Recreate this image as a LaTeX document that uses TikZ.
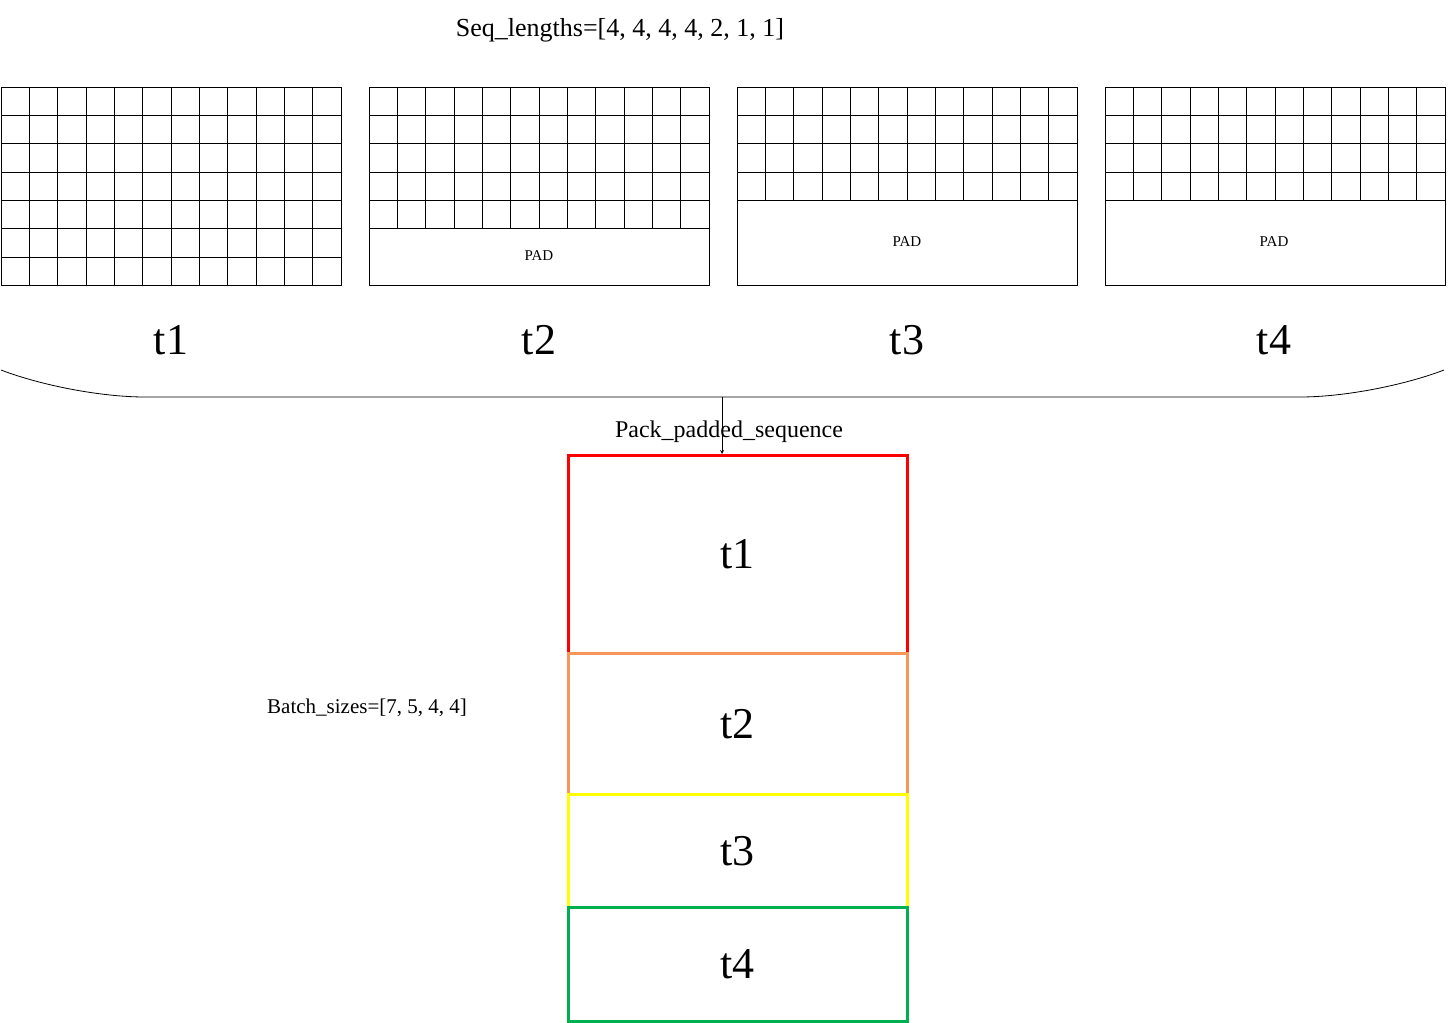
\documentclass[tikz,border=0pt]{standalone}
\usepackage{fontspec}
\setmainfont{Liberation Serif}
\begin{document}
\begin{tikzpicture}[x=1pt,y=-1pt,
  gridline/.style={draw=black,line width=0.8pt},
  big/.style={font=\fontsize{44}{48}\selectfont},
  pbox/.style={line width=2.5pt}]
\useasboundingbox (0,0) rectangle (1452,1023);
\node (seq) at (620,30) {\fontsize{26}{30}\selectfont Seq\_lengths=[4, 4, 4, 4, 2, 1, 1]};
% grids
\foreach \gx/\rows/\nm in {1/7/g1, 369/5/g2, 737/4/g3, 1105/4/g4}{
  \draw[gridline] (\gx,87) rectangle (\gx+340,285);
  \foreach \i in {1,...,11} \draw[gridline] (\gx+\i*28.33,87) -- (\gx+\i*28.33,87+\rows*28.33);
  \foreach \j in {1,...,\rows} \draw[gridline] (\gx,87+\j*28.33) -- (\gx+340,87+\j*28.33);
}
\node[font=\fontsize{15}{17}\selectfont] (p2) at (539,256) {PAD};
\node[font=\fontsize{15}{17}\selectfont] (p3) at (907,242) {PAD};
\node[font=\fontsize{15}{17}\selectfont] (p4) at (1274,242) {PAD};
\node[big] (l1) at (171,340) {t1};
\node[big] (l2) at (539,340) {t2};
\node[big] (l3) at (907,340) {t3};
\node[big] (l4) at (1274,340) {t4};
% brace
\draw[line width=0.8pt] (1,370) .. controls (40,385) and (100,397) .. (145,397) -- (1300,397) .. controls (1345,397) and (1405,385) .. (1444,370);
\coordinate (bm) at (722,397);
\node (pk) at (729,432) {\fontsize{24}{28}\selectfont Pack\_padded\_sequence};
% boxes
\node[pbox,draw=red,minimum width=339,minimum height=198,anchor=north west,big] (b1) at (567,454) {t1};
\node[pbox,draw={rgb,255:red,247;green,150;blue,90},minimum width=339,minimum height=141,anchor=north west,big] (b2) at (567,652) {t2};
\node[pbox,draw={rgb,255:red,255;green,255;blue,0},minimum width=339,minimum height=113,anchor=north west,big] (b3) at (567,793) {t3};
\node[pbox,draw={rgb,255:red,0;green,176;blue,80},minimum width=339,minimum height=114,anchor=north west,big] (b4) at (567,906) {t4};
\draw[-stealth,line width=0.8pt] (bm) -- (bm |- b1.north);
\node (bs) at (367,708) {\fontsize{21}{24}\selectfont Batch\_sizes=[7, 5, 4, 4]};
\end{tikzpicture}
\end{document}
